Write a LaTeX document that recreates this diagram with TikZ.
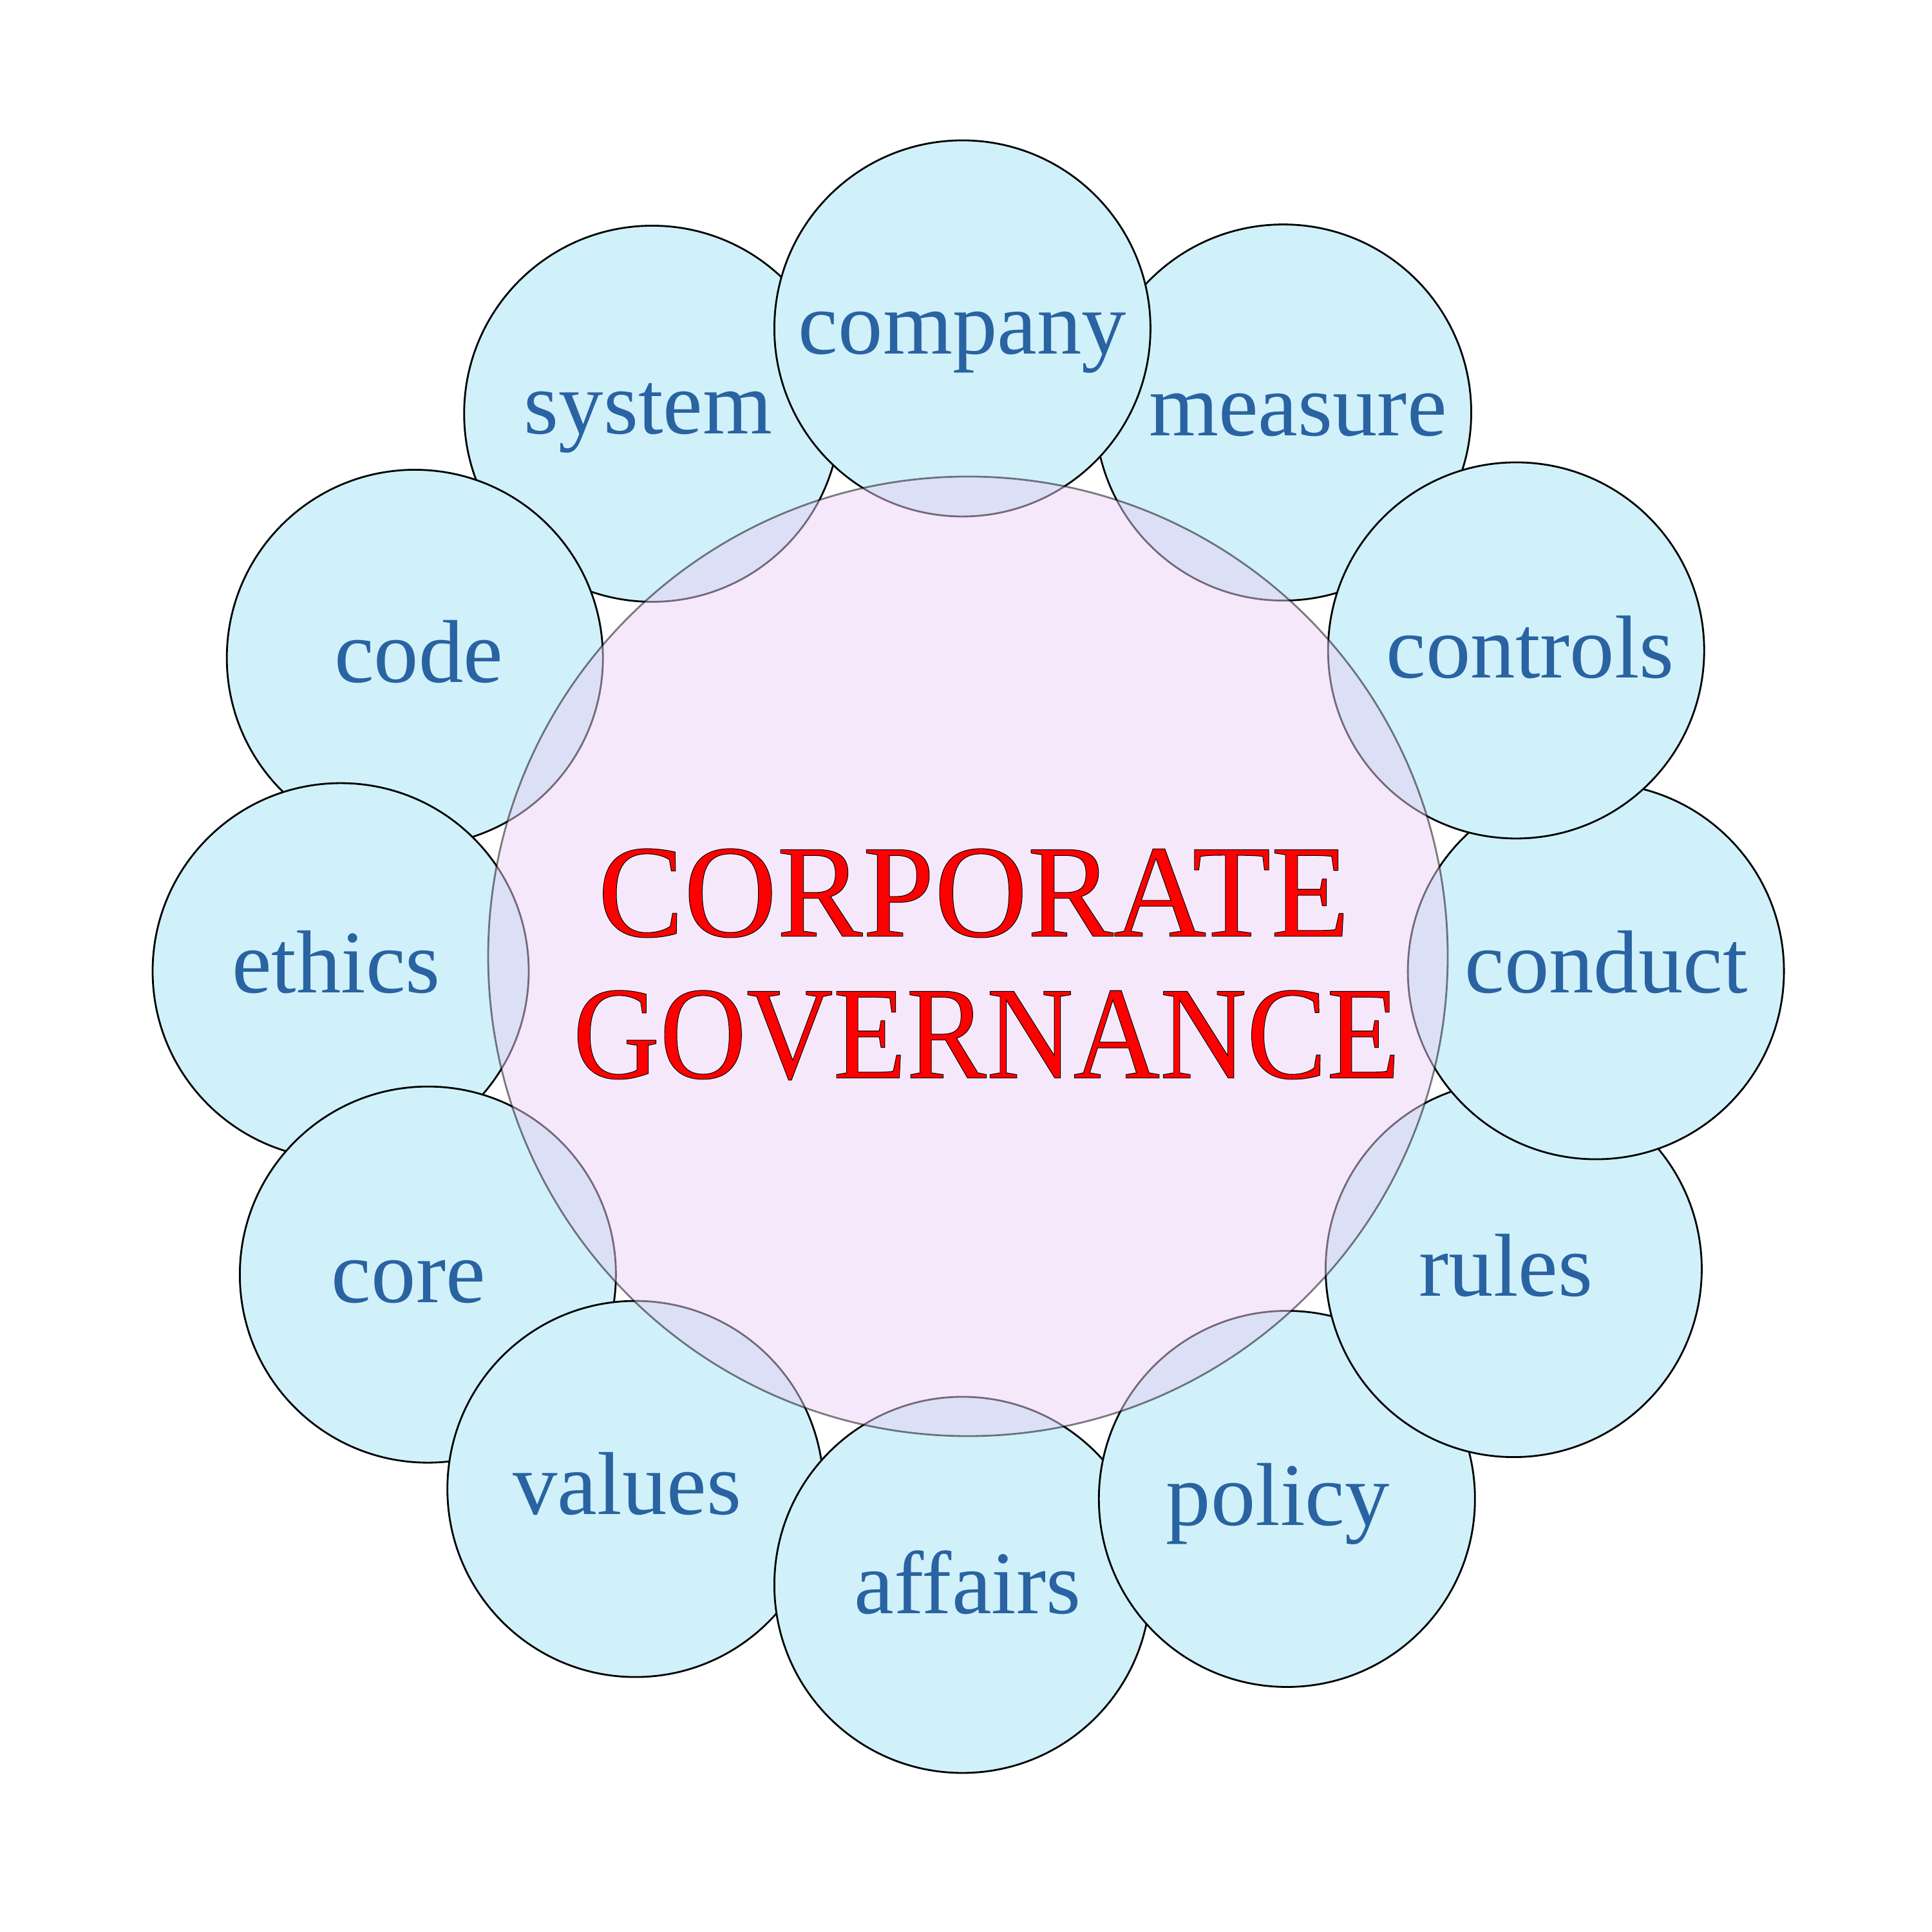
\documentclass[tikz,border=0pt]{standalone}
\usepackage{graphicx}
\usepackage{fontspec}
\setmainfont{Liberation Serif}
\newfontfamily\titlefont[FakeBold=0.5]{Liberation Serif}
\definecolor{bubblecyan}{RGB}{208,241,250}
\definecolor{hubpink}{RGB}{233,209,245}
\definecolor{wordblue}{RGB}{42,99,162}
\definecolor{titlered}{RGB}{255,0,0}

\tikzset{
  bubble/.style={circle, draw=black, line width=0.8pt, fill=bubblecyan, minimum size=5.84cm, inner sep=0pt},
  wordlabel/.style={inner sep=0pt, text=wordblue, font=\fontsize{39.5}{39.5}\selectfont, text height=0.62cm, text depth=0pt},
  hub/.style={circle, draw=black, line width=0.8pt, fill=hubpink, opacity=0.5, minimum size=14.9cm, inner sep=0pt},
  titleline/.style={anchor=base, inner sep=0pt, text=titlered, font=\titlefont\fontsize{58.5}{58.5}\selectfont}
}

\begin{document}
\begin{tikzpicture}
  \useasboundingbox (0,0) rectangle (30,30);
  \coordinate (centre) at (15.03,15.15);

  % ring of bubbles - order chosen so each one lies over the right neighbours
  \foreach \word/\x/\y/\dx/\dy in {
    system/10.127/23.575/-0.06/0,
    code/6.442/19.785/0.06/-0.07,
    ethics/5.290/14.919/-0.07/-0.02,
    core/6.644/10.208/-0.30/-0.12,
    values/9.867/6.879/-0.13/-0.08,
    affairs/14.944/5.390/0.08/-0.14,
    policy/19.983/6.725/-0.14/-0.10,
    rules/23.504/10.294/-0.12/-0.11,
    conduct/24.781/14.919/0.16/-0.02,
    measure/19.925/23.594/0.23/-0.05,
    controls/23.542/19.900/0.22/-0.12,
    company/14.944/24.900/0/-0.09} {
    \node[bubble] (\word) at (\x,\y) {};
    \node[wordlabel] (\word-label) at ([shift={(\dx,\dy)}]\word.center) {\word};
  }

  % translucent hub over the ring
  \node[hub] (hub) at (centre) {};

  % title
  \node[titleline] (corporate) at (15.12,15.46) {\special{pdf:code 0 0 0 RG}\scalebox{0.973}[1]{CORPORATE}};
  \node[titleline] (governance) at (15.32,13.26) {\special{pdf:code 0 0 0 RG}\scalebox{0.907}[1]{GOVERNANCE}};
\end{tikzpicture}
\end{document}
